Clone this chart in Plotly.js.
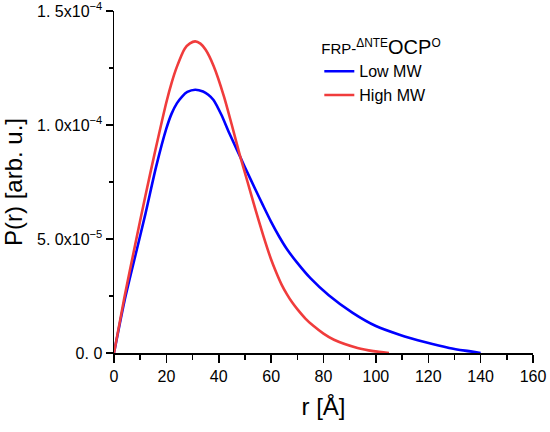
<!DOCTYPE html>
<html>
<head>
<meta charset="utf-8">
<script src="https://cdn.plot.ly/plotly-3.0.1.min.js"></script>
<style>html,body{margin:0;padding:0;background:#fff}#chart{width:550px;height:432px}</style>
</head>
<body>
<div id="chart"></div>
<script>
// r in Å, P(r) in units of 1e-4
const rLow  = [0, 4, 8, 12, 16, 20, 22, 24, 26, 28, 31, 34, 36, 38, 41, 44, 47, 50, 54, 57, 60, 63, 66, 70, 75, 82, 91, 100, 109, 119, 128, 134, 140];
const pLow  = [0, 0.228, 0.42, 0.61, 0.813, 0.985, 1.05, 1.095, 1.125, 1.145, 1.155, 1.147, 1.133, 1.11, 1.045, 0.965, 0.89, 0.815, 0.717, 0.645, 0.575, 0.512, 0.456, 0.395, 0.328, 0.253, 0.177, 0.118, 0.08, 0.047, 0.022, 0.01, 0];
const rHigh = [0, 4, 8, 12, 16, 20, 22, 24, 27, 29, 31, 33, 35, 38, 42, 45, 48, 51, 54, 57, 60, 62, 64, 66, 68, 70, 73, 76, 80, 84, 93, 99, 105];
const pHigh = [0, 0.245, 0.47, 0.69, 0.9, 1.10, 1.185, 1.255, 1.335, 1.358, 1.367, 1.357, 1.33, 1.26, 1.125, 1.0, 0.87, 0.75, 0.63, 0.515, 0.41, 0.352, 0.30, 0.258, 0.222, 0.192, 0.152, 0.12, 0.085, 0.058, 0.022, 0.008, 0];
const scale = 1e-4;
const xTicks = [0, 20, 40, 60, 80, 100, 120, 140, 160];
const yTickVals = [0, 5e-5, 1e-4, 1.5e-4];
const yTickText = ['0. 0', '5. 0x10<sup>\u22125</sup>', '1. 0x10<sup>\u22124</sup>', '1. 5x10<sup>\u22124</sup>'];
const seriesNames = ['Low MW', 'High MW'];
const legendTitle = '<span style="font-size:15px">FRP-</span><sup>\u0394NTE</sup><span style="font-size:20px">OCP</span><sup>O</sup>';

const font = 'Liberation Sans, Arial, sans-serif';
const traces = [
  {x: rLow, y: pLow.map(v => v * scale), name: seriesNames[0], type: 'scatter', mode: 'lines',
   line: {color: '#0000ff', width: 2.6, shape: 'spline', smoothing: 0.7}},
  {x: rHigh, y: pHigh.map(v => v * scale), name: seriesNames[1], type: 'scatter', mode: 'lines',
   line: {color: '#f03c3c', width: 2.6, shape: 'spline', smoothing: 0.7}}
];
const layout = {
  width: 550, height: 432,
  margin: {l: 114, r: 17, t: 11, b: 79},
  paper_bgcolor: '#fff', plot_bgcolor: '#fff',
  font: {family: font, color: '#000', size: 16},
  showlegend: true,
  legend: {x: 0.49, y: 0.938, xanchor: 'left', yanchor: 'top', bgcolor: 'rgba(0,0,0,0)',
    font: {size: 16, family: font},
    title: {text: legendTitle, font: {size: 17, family: font}},
    tracegroupgap: 0},
  xaxis: {
    range: [0, 160], tickvals: xTicks, ticktext: xTicks.map(String),
    showline: true, linecolor: '#000', linewidth: 1.5, mirror: false,
    ticks: 'outside', ticklen: 8, tickwidth: 1.5, tickcolor: '#000',
    showgrid: false, zeroline: false, ticklabeloverflow: 'allow',
    tickfont: {size: 16, family: font},
    minor: {dtick: 10, tick0: 0, ticks: 'outside', ticklen: 5, tickwidth: 1.5, tickcolor: '#000', showgrid: false},
    title: {text: 'r [Å]', font: {size: 24, family: font}, standoff: 14}
  },
  yaxis: {
    range: [-0.0003e-4, 1.5003e-4], tickvals: yTickVals, ticktext: yTickText,
    showline: true, linecolor: '#000', linewidth: 1.5, mirror: false,
    ticks: 'outside', ticklen: 7, tickwidth: 1.5, tickcolor: '#000',
    showgrid: false, zeroline: false, ticklabeloverflow: 'allow',
    tickfont: {size: 16, family: font},
    minor: {dtick: 2.5e-5, tick0: 0, ticks: 'outside', ticklen: 4, tickwidth: 1.5, tickcolor: '#000', showgrid: false},
    title: {text: 'P(r) [arb. u.]', font: {size: 24, family: font}, standoff: 8}
  }
};
Plotly.newPlot('chart', traces, layout, {displayModeBar: false, staticPlot: true});
</script>
</body>
</html>
